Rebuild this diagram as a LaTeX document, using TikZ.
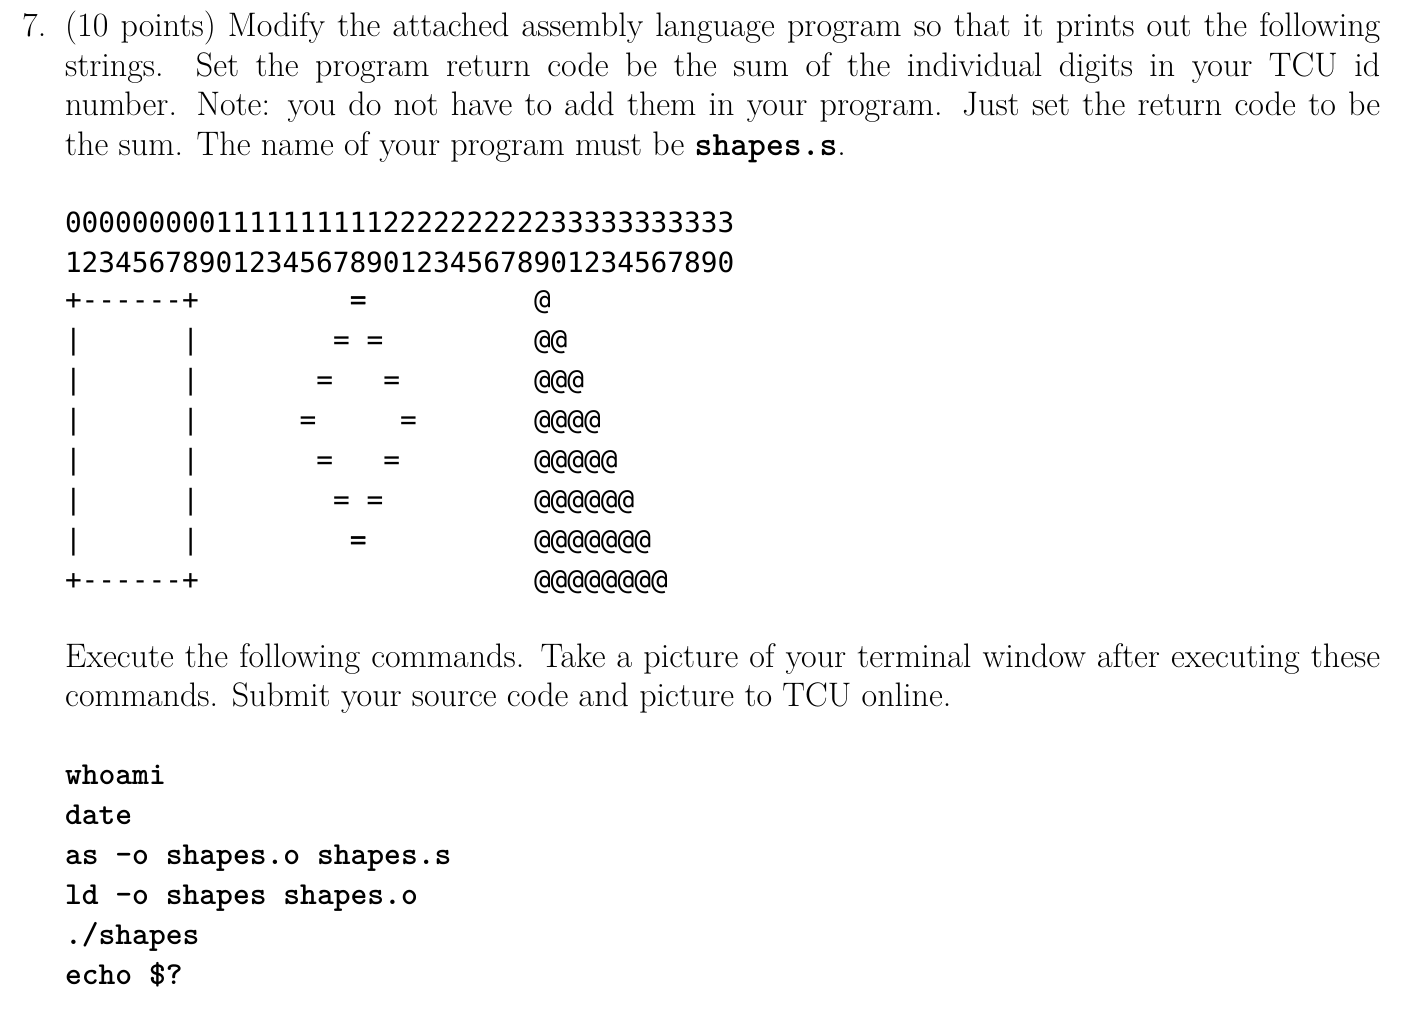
\documentclass[tikz,border=0pt]{standalone}
\usepackage{fontspec}
\newfontfamily\asc{DejaVu Sans Mono}
\newfontfamily\tb{lmmonolt10-bold.otf}
\tikzset{txt/.style={anchor=mid west,inner sep=0pt,outer sep=0pt},
 asc/.style={txt,font=\fontsize{27.8}{30}\asc},
 cmd/.style={txt,font=\fontsize{32}{34}\tb}}
\begin{document}
\begin{tikzpicture}[x=1pt,y=-1pt]
\useasboundingbox (0,0) rectangle (1410,1016);
\node[anchor=north west,inner sep=0pt] (p1) at (22,11) {\begin{minipage}{1358pt}\fontsize{34}{39.6}\selectfont\hangindent=43pt\hangafter=1
\noindent\makebox[43pt][l]{7.}(10 points) Modify the attached assembly language program so that it prints out the following\linebreak strings. Set the program return code be the sum of the individual digits in your TCU id\linebreak number. Note: you do not have to add them in your program. Just set the return code to be\linebreak the sum. The name of your program must be {\tb shapes.s}.\end{minipage}};
\node[asc] (d1) at (65,230) {0000000001111111111222222222233333333333};
\node[asc] (d2) at (65,270) {1234567890123456789012345678901234567890};
\node[asc] (b0) at (65,307) {+------+};
\node[asc] (b1) at (65,587) {+------+};
\foreach \r in {1,...,6}{
 \node[asc] (l\r) at (65,307+40*\r) {|};
 \node[asc] (r\r) at (65+7*16.75,307+40*\r) {|};}
\foreach \r/\a/\b in {0/17/17,1/16/18,2/15/19,3/14/20,4/15/19,5/16/18,6/17/17}{
 \node[asc] (ea\r) at (65+\a*16.75,307+40*\r) {=};
 \node[asc] (eb\r) at (65+\b*16.75,307+40*\r) {=};}
\foreach \r/\s in {0/@,1/@@,2/@@@,3/@@@@,4/@@@@@,5/@@@@@@,6/@@@@@@@,7/@@@@@@@@}
 \node[asc] (at\r) at (65+28*16.75,307+40*\r) {\s};
\node[anchor=north west,inner sep=0pt] (p2) at (65,643) {\begin{minipage}{1315pt}\fontsize{34}{39.6}\selectfont
Execute the following commands. Take a picture of your terminal window after executing these\linebreak commands. Submit your source code and picture to TCU online.\end{minipage}};
\node[cmd] (c1) at (65,782) {whoami};
\node[cmd] (c2) at (65,822) {date};
\node[cmd] (c3) at (65,862) {as -o shapes.o shapes.s};
\node[cmd] (c4) at (65,902) {ld -o shapes shapes.o};
\node[cmd] (c5) at (65,942) {./shapes};
\node[cmd] (c6) at (65,982) {echo \$?};
\end{tikzpicture}
\end{document}
